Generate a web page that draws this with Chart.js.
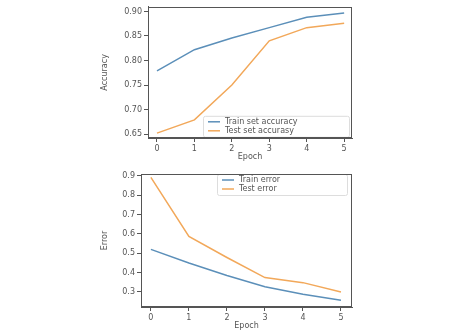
<!DOCTYPE html>
<html>
<head>
<meta charset="utf-8">
<script src="https://cdn.jsdelivr.net/npm/chart.js@4"></script>
<style>
  body { margin: 0; background: #fff; width: 474px; height: 336px; overflow: hidden; }
  .box { position: absolute; }
</style>
</head>
<body>
<div class="box" style="left:100px;top:0px;width:260px;height:162px"><canvas id="accChart"></canvas></div>
<div class="box" style="left:100px;top:165px;width:260px;height:166px"><canvas id="errChart"></canvas></div>
<script>
const epochs = [0, 1, 2, 3, 4, 5];
const trainAcc = [0.779, 0.822, 0.846, 0.867, 0.888, 0.897];
const testAcc = [0.652, 0.679, 0.750, 0.840, 0.867, 0.876];
const trainErr = [0.520, 0.450, 0.385, 0.327, 0.288, 0.257];
const testErr = [0.893, 0.587, 0.478, 0.374, 0.348, 0.300];

const blue = '#5b8fb9';
const orange = '#f2a85a';
const txt = '#555';

function pts(ys) {
    return epochs.map((e, i) => ({ x: e, y: ys[i] }));
}

// full box around the plot area
const frame = {
    id: 'frame',
    afterDraw(chart) {
        const ctx = chart.ctx;
        const a = chart.chartArea;
        ctx.save();
        ctx.strokeStyle = '#555';
        ctx.lineWidth = 1;
        ctx.strokeRect(Math.round(a.left) + 0.5, Math.round(a.top) + 0.5,
            Math.round(a.right - a.left) - 1, Math.round(a.bottom - a.top) - 1);
        ctx.restore();
    }
};

// legend inside the plot, like matplotlib
const boxLegend = {
    id: 'boxLegend',
    afterDraw(chart, args, opts) {
        const ctx = chart.ctx;
        const a = chart.chartArea;
        const x = a.left + opts.x, y = a.top + opts.y;
        ctx.save();
        ctx.fillStyle = 'rgba(255,255,255,0.85)';
        ctx.strokeStyle = '#ddd';
        ctx.lineWidth = 1;
        ctx.beginPath();
        ctx.roundRect(x + 0.5, y + 0.5, opts.w, opts.h, 2);
        ctx.fill();
        ctx.stroke();
        ctx.font = '8px "DejaVu Sans"';
        ctx.textBaseline = 'middle';
        chart.data.datasets.forEach((ds, i) => {
            const ly = y + 6 + i * 9;
            ctx.strokeStyle = ds.borderColor;
            ctx.lineWidth = 1.5;
            ctx.beginPath();
            ctx.moveTo(x + 5, ly);
            ctx.lineTo(x + 17, ly);
            ctx.stroke();
            ctx.fillStyle = txt;
            ctx.fillText(ds.label, x + 22, ly);
        });
        ctx.restore();
    }
};

function makeChart(id, sets, yTitle, ymin, ymax, step, dec, xmin, xmax, yw, pad, legend, xh) {
    return new Chart(document.getElementById(id), {
        type: 'line',
        data: {
            datasets: sets.map(s => ({
                label: s[0],
                data: pts(s[1]),
                borderColor: s[2],
                backgroundColor: s[2],
                borderWidth: 1.5,
                pointRadius: 0,
                tension: 0
            }))
        },
        options: {
            responsive: true,
            maintainAspectRatio: false,
            animation: false,
            layout: { padding: pad },
            plugins: { legend: { display: false }, tooltip: { enabled: false }, boxLegend: legend },
            scales: {
                x: {
                    type: 'linear',
                    min: xmin,
                    max: xmax,
                    grid: { drawOnChartArea: false, tickLength: 4, color: '#555' },
                    border: { color: '#555' },
                    ticks: { stepSize: 1, includeBounds: false, color: txt, font: { size: 8, family: 'DejaVu Sans' }, padding: 2 },
                    title: { display: true, text: 'Epoch', color: txt, font: { size: 8, family: 'DejaVu Sans' }, padding: { top: 1, bottom: 0 } },
                    afterFit(s) { s.height = xh; }
                },
                y: {
                    min: ymin,
                    max: ymax,
                    grid: { drawOnChartArea: false, tickLength: 4, color: '#555' },
                    border: { color: '#555' },
                    ticks: {
                        stepSize: step, includeBounds: false, color: txt,
                        font: { size: 8, family: 'DejaVu Sans' }, padding: 2,
                        callback: v => v.toFixed(dec)
                    },
                    title: { display: true, text: yTitle, color: txt, font: { size: 8, family: 'DejaVu Sans' }, padding: { top: 0, bottom: 4 } },
                    afterFit(s) { s.width = yw; }
                }
            }
        },
        plugins: [boxLegend, frame]
    });
}

makeChart('accChart',
    [['Train set accuracy', trainAcc, blue], ['Test set accurasy', testAcc, orange]],
    'Accuracy', 0.642, 0.9095, 0.05, 2, -0.24, 5.21, 48,
    { left: 0, top: 6, right: 8, bottom: 0 },
    { x: 55, y: 109, w: 146, h: 21 }, 24);

makeChart('errChart',
    [['Train error', trainErr, blue], ['Test error', testErr, orange]],
    'Error', 0.222, 0.91, 0.1, 1, -0.26, 5.29, 41,
    { left: 0, top: 9, right: 8, bottom: 0 },
    { x: 76, y: 0, w: 130, h: 21 }, 24);
</script>
</body>
</html>
